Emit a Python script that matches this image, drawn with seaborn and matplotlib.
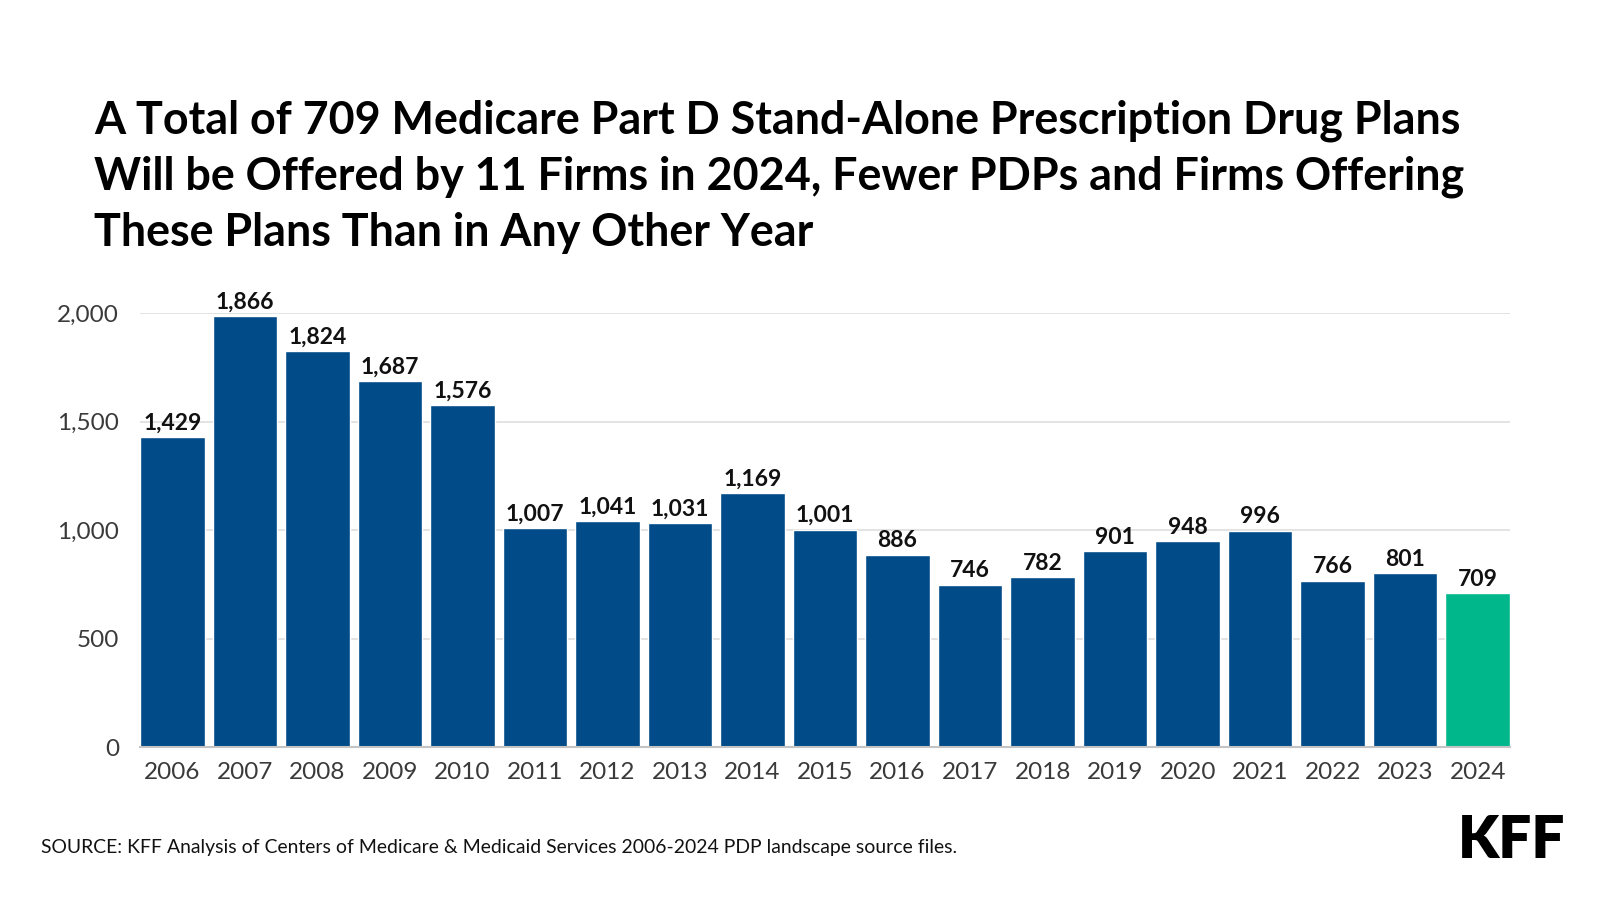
import matplotlib
matplotlib.use("Agg")
import matplotlib.pyplot as plt
import seaborn as sns
import pandas as pd

years = ["2006", "2007", "2008", "2009", "2010", "2011", "2012", "2013", "2014", "2015",
         "2016", "2017", "2018", "2019", "2020", "2021", "2022", "2023", "2024"]
# bar heights as drawn in the reference (the 2007 bar is drawn taller than its label)
heights = [1429, 1986, 1824, 1687, 1576, 1007, 1041, 1031, 1169, 1001,
           886, 746, 782, 901, 948, 996, 766, 801, 709]
value_labels = ["1,429", "1,866", "1,824", "1,687", "1,576", "1,007", "1,041", "1,031", "1,169", "1,001",
                "886", "746", "782", "901", "948", "996", "766", "801", "709"]
y_ticks = [0, 500, 1000, 1500, 2000]
y_tick_labels = ["0", "500", "1,000", "1,500", "2,000"]

title_lines = ["A Total of 709 Medicare Part D Stand-Alone Prescription Drug Plans",
               "Will be Offered by 11 Firms in 2024, Fewer PDPs and Firms Offering",
               "These Plans Than in Any Other Year"]
source = "SOURCE: KFF Analysis of Centers of Medicare & Medicaid Services 2006-2024 PDP landscape source files."

BLUE = "#004b88"
GREEN = "#00b78b"
colors = [BLUE] * (len(years) - 1) + [GREEN]

sns.set_theme(style="white")
plt.rcParams['font.family'] = ['Lato', 'DejaVu Sans']

df = pd.DataFrame({"year": years, "value": heights})

fig = plt.figure(figsize=(16, 9), dpi=100)
ax = fig.add_axes([140 / 1600, 1 - 747 / 900, (1510 - 140) / 1600, (747 - 313) / 900])

sns.barplot(data=df, x="year", y="value", hue="year", palette=colors, legend=False,
            width=0.89, saturation=1, ax=ax, zorder=3)

ax.set_xlim(-0.445, len(years) - 1 + 0.445)
ax.set_ylim(0, 2000)
ax.set_yticks(y_ticks)
ax.set_yticklabels(y_tick_labels)
ax.set_xlabel("")
ax.set_ylabel("")
ax.yaxis.grid(True, color="#dedede", linewidth=1.2, zorder=0)
ax.xaxis.grid(False)
for s in ["top", "right", "left"]:
    ax.spines[s].set_visible(False)
ax.spines["bottom"].set_color("#c4c4c4")
ax.spines["bottom"].set_linewidth(1.5)
ax.spines["bottom"].set_zorder(4)
ax.tick_params(axis="both", length=0, labelsize=17.5, labelcolor="#3a3a3a")
ax.tick_params(axis="x", pad=11)
ax.tick_params(axis="y", pad=15)

for i, (h, lab) in enumerate(zip(heights, value_labels)):
    ax.annotate(lab, (i, h), xytext=(0, 5.5), textcoords="offset points",
                ha="center", va="baseline", fontsize=16.5, fontweight="bold",
                color="#111111", zorder=5)

# Title, fitted to the reference width
renderer = fig.canvas.get_renderer()
title_fs = 34
t0 = fig.text(94 / 1600, 1 - 134 / 900, title_lines[0], fontsize=title_fs,
              fontweight="bold", color="#000000", ha="left", va="baseline")
w = t0.get_window_extent(renderer).width
title_fs = title_fs * (1465 - 94) / w
t0.set_fontsize(title_fs)
for k, line in enumerate(title_lines[1:], start=1):
    fig.text(94 / 1600, 1 - (134 + 56 * k) / 900, line, fontsize=title_fs,
             fontweight="bold", color="#000000", ha="left", va="baseline")

ts = fig.text(41 / 1600, 1 - 853 / 900, source, fontsize=14, color="#111111",
              ha="left", va="baseline")
w = ts.get_window_extent(renderer).width
ts.set_fontsize(14 * (960 - 41) / w)

fig.text(1565 / 1600, 1 - 858 / 900, "KFF", fontsize=42, fontweight="heavy",
         color="#000000", ha="right", va="baseline")

fig.savefig("out.png", dpi=100, facecolor="white")
